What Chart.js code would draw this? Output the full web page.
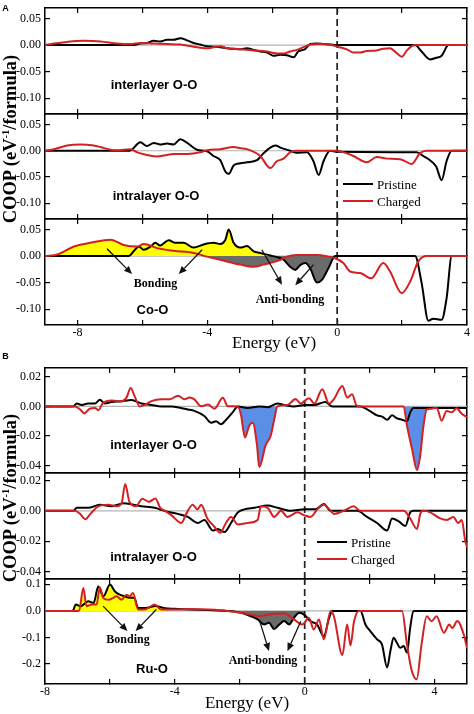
<!DOCTYPE html>
<html><head><meta charset="utf-8"><title>COOP</title>
<script src="https://cdn.jsdelivr.net/npm/chart.js@4.4.1/dist/chart.umd.min.js"></script>
<style>
html,body{margin:0;padding:0;background:#fff}
#fig{position:relative;width:474px;height:714px;overflow:hidden;background:#fff}
#fig canvas{position:absolute;left:0}
.t{position:absolute;white-space:nowrap;line-height:1;transform:translate(-50%,-50%);color:#000}
.lab{font-family:"Liberation Sans",Arial,sans-serif;font-weight:bold;font-size:13px}
.pl{font-family:"Liberation Sans",Arial,sans-serif;font-weight:bold;font-size:9px}
.ann{font-family:"Liberation Serif","Times New Roman",serif;font-weight:bold;font-size:12px}
.ax{font-family:"Liberation Serif","Times New Roman",serif;font-size:17px}
.yt{font-family:"Liberation Serif","Times New Roman",serif;font-weight:bold;font-size:18.5px;transform:translate(-50%,-50%) rotate(-90deg)}
.yt sup{font-size:10.5px;vertical-align:7px;line-height:0}
.leg{position:absolute;font-family:"Liberation Serif","Times New Roman",serif;font-size:13px;line-height:1;white-space:nowrap;transform:translateY(-50%)}
.sw{position:absolute;height:2px}
</style></head>
<body><div id="fig"></div>
<script>
// ---------------- data (energy in eV, COOP in eV^-1/formula) ----------------
const xTicksA = [-8, -6, -4, -2, 0, 2, 4];
const xTickLabelsA = ['-8', '', '-4', '', '0', '', '4'];
const xTicksB = [-8, -6, -4, -2, 0, 2, 4];
const xTickLabelsB = ['-8', '', '-4', '', '0', '', '4'];
const yTicksA = [0.05, 0, -0.05, -0.10];
const yTickLabelsA = ['0.05', '0.00', '-0.05', '-0.10'];
const yTicksB = [0.02, 0, -0.02, -0.04];
const yTickLabelsB = ['0.02', '0.00', '-0.02', '-0.04'];
const yTicksB3 = [0.1, 0, -0.1, -0.2];
const yTickLabelsB3 = ['0.1', '0.0', '-0.1', '-0.2'];
const xRangeA = [-9, 4];
const xRangeB = [-8, 5];
const yRangeA = [-0.13, 0.07];
const yRangeB1 = [-0.045, 0.026];
const yRangeB2 = [-0.045, 0.025];
const yRangeB3 = [-0.275, 0.12];
const seriesNames = ['Pristine', 'Charged'];

// (A) interlayer O-O
const coInterPristine = [[-9,0],[-6.3,0],[-6.06,0.003],[-5.86,0.004],[-5.65,0.008],[-5.45,0.007],[-5.24,0.010],[-5.04,0.010],[-4.83,0.013],[-4.62,0.009],[-4.42,0.004],[-4.22,0.001],[-4.01,-0.002],[-3.81,-0.003],[-3.6,-0.004],[-3.39,-0.006],[-3.19,-0.007],[-2.98,-0.008],[-2.78,-0.006],[-2.57,-0.009],[-2.37,-0.012],[-2.16,-0.014],[-1.96,-0.020],[-1.75,-0.018],[-1.55,-0.019],[-1.34,-0.023],[-1.2,-0.012],[-1.0,-0.008],[-0.83,0.002],[-0.63,0.003],[-0.42,0.002],[-0.22,0.001],[0,0],[2.4,0],[2.6,-0.012],[2.86,-0.027],[3.05,-0.024],[3.22,-0.020],[3.43,0],[4,0]];
const coInterCharged = [[-9,0],[-8.72,0.003],[-8.32,0.006],[-7.81,0.008],[-7.29,0.007],[-6.78,0.003],[-6.37,0.002],[-6.06,0.004],[-5.65,0.003],[-5.24,0.002],[-4.83,0.001],[-4.42,-0.003],[-4.01,-0.006],[-3.81,-0.004],[-3.6,-0.002],[-3.39,-0.006],[-3.19,-0.007],[-2.98,-0.008],[-2.57,-0.010],[-2.16,-0.012],[-1.96,-0.015],[-1.65,-0.016],[-1.45,-0.012],[-1.24,-0.009],[-1.0,-0.003],[-0.83,0.001],[-0.52,0.002],[-0.22,0.001],[0,-0.003],[0.3,-0.008],[0.5,-0.014],[0.71,-0.014],[0.91,-0.011],[1.22,-0.010],[1.42,-0.007],[1.63,-0.006],[1.83,-0.015],[1.99,-0.022],[2.15,-0.010],[2.3,-0.002],[2.45,0],[4,0]];
// (A) intralayer O-O
const coIntraPristine = [[-9,0],[-6.4,0],[-6.06,0.016],[-5.86,0.009],[-5.65,0.015],[-5.45,0.012],[-5.24,0.014],[-5.04,0.012],[-4.83,0.022],[-4.62,0.015],[-4.32,0.002],[-4.01,-0.001],[-3.81,-0.010],[-3.6,-0.018],[-3.44,-0.040],[-3.34,-0.044],[-3.19,-0.028],[-2.98,-0.024],[-2.78,-0.022],[-2.47,-0.018],[-2.27,-0.005],[-2.06,0.006],[-1.9,0.010],[-1.75,0.006],[-1.45,0],[-1.24,-0.004],[-0.93,-0.003],[-0.73,-0.020],[-0.57,-0.046],[-0.42,-0.020],[-0.22,0],[0,-0.002],[2.45,-0.003],[2.65,-0.010],[2.86,-0.018],[3.05,-0.030],[3.22,-0.056],[3.37,-0.020],[3.53,0],[4,0]];
const coIntraCharged = [[-9,0],[-8.72,0.003],[-8.32,0.010],[-7.9,0.012],[-7.5,0.010],[-7.29,0.007],[-6.98,0.002],[-6.78,0.001],[-6.37,0.003],[-6.16,-0.003],[-5.86,-0.008],[-5.55,-0.011],[-5.24,-0.008],[-5.04,-0.006],[-4.62,-0.006],[-4.22,-0.003],[-4.01,0.001],[-3.6,0.003],[-3.19,0.007],[-2.98,0.005],[-2.78,0.003],[-2.37,-0.010],[-2.06,-0.033],[-1.86,-0.020],[-1.65,-0.015],[-1.45,-0.003],[-1.24,0],[0,0],[0.3,-0.005],[0.5,-0.010],[0.91,-0.022],[1.22,-0.012],[1.53,-0.015],[1.94,-0.016],[2.3,-0.025],[2.55,-0.005],[2.76,0],[4,0]];
// (A) Co-O
const coOPristine = [[-9,0],[-6.42,0],[-6.27,0.009],[-6.11,0.018],[-5.96,0.012],[-5.75,0.018],[-5.6,0.025],[-5.45,0.020],[-5.19,0.030],[-4.98,0.025],[-4.73,0.025],[-4.42,0.016],[-4.11,0.022],[-3.81,0.025],[-3.6,0.023],[-3.45,0.030],[-3.34,0.050],[-3.19,0.025],[-2.98,0.016],[-2.78,0.019],[-2.57,0.009],[-2.37,0.006],[-2.06,0.001],[-1.85,-0.002],[-1.65,-0.007],[-1.45,-0.020],[-1.29,-0.026],[-1.14,-0.017],[-0.98,-0.013],[-0.83,-0.023],[-0.62,-0.050],[-0.47,-0.045],[-0.27,-0.023],[-0.06,0],[2.4,0],[2.6,-0.050],[2.81,-0.122],[2.96,-0.118],[3.22,-0.120],[3.37,-0.080],[3.53,0],[4,0]];
const coOCharged = [[-9,0],[-8.62,0.003],[-8.11,0.018],[-7.6,0.025],[-6.98,0.031],[-6.58,0.021],[-6.16,0.018],[-5.96,0.023],[-5.55,0.015],[-5.04,0.010],[-4.42,0.006],[-4.01,-0.001],[-3.6,-0.007],[-2.98,-0.016],[-2.57,-0.020],[-2.27,-0.016],[-2.06,-0.013],[-1.75,-0.007],[-1.55,-0.001],[-1.24,0.002],[-0.62,0.002],[-0.27,-0.001],[-0.06,-0.004],[0.19,-0.013],[0.4,-0.029],[0.71,-0.032],[1.05,-0.042],[1.42,-0.013],[1.63,-0.029],[1.99,-0.070],[2.25,-0.048],[2.5,-0.010],[2.76,0],[4,0]];

// (B) interlayer O-O
const ruInterPristine = [[-8,0],[-7.13,0],[-7.02,0.002],[-6.87,0.001],[-6.67,0.002],[-6.46,0.002],[-6.31,0.0045],[-6.16,0.002],[-5.95,0.003],[-5.64,0.0035],[-5.34,0.0043],[-5.03,0.002],[-4.72,0.001],[-4.42,0],[-4.11,0],[-3.81,-0.001],[-3.6,-0.002],[-3.4,-0.003],[-3.09,-0.0065],[-2.88,-0.011],[-2.73,-0.010],[-2.58,-0.012],[-2.42,-0.009],[-2.22,-0.004],[-2.06,0],[-1.76,-0.001],[-1.4,0],[-1.14,-0.0005],[-0.84,0.002],[-0.63,0.001],[-0.33,0],[0,0.001],[0.29,0.001],[0.64,0.003],[0.85,0],[1.72,0],[2.0,-0.003],[2.23,-0.006],[2.4,-0.007],[2.54,-0.009],[2.69,-0.006],[2.84,-0.008],[3.0,-0.009],[3.15,-0.010],[3.25,-0.004],[3.35,-0.001],[4,-0.001],[5,-0.001]];
const ruInterCharged = [[-8,0],[-7.08,0],[-6.92,-0.002],[-6.79,-0.0047],[-6.62,-0.0015],[-6.46,-0.001],[-6.36,-0.0025],[-6.21,0.0024],[-5.95,0.004],[-5.64,0.0035],[-5.49,0.006],[-5.36,0.0124],[-5.24,0.007],[-5.08,0],[-4.93,0.001],[-4.72,0.0036],[-4.42,0.0048],[-4.16,0.0048],[-3.9,0.0073],[-3.7,0.0048],[-3.55,0.006],[-3.4,0.0048],[-3.19,0.0002],[-2.98,0.0013],[-2.78,-0.0015],[-2.52,0.0058],[-2.37,0.0002],[-2.06,0],[-1.96,-0.006],[-1.84,-0.021],[-1.71,-0.013],[-1.6,-0.011],[-1.47,-0.026],[-1.4,-0.041],[-1.2,-0.026],[-1.05,-0.020],[-0.94,-0.009],[-0.84,0],[-0.53,0.001],[-0.28,0.005],[-0.12,0.002],[0.13,0.0056],[0.3,0.002],[0.54,0.0116],[0.75,0.002],[0.9,0.005],[1.16,0.0138],[1.31,0.006],[1.46,0.0082],[1.6,0.0005],[1.72,0],[3.05,0],[3.15,-0.013],[3.3,-0.028],[3.46,-0.043],[3.56,-0.033],[3.66,-0.013],[3.76,-0.002],[3.9,-0.0015],[4.07,-0.001],[4.22,-0.0096],[4.37,-0.003],[4.53,-0.004],[4.68,-0.0013],[4.84,-0.005],[5,-0.0073]];
// (B) intralayer O-O
const ruIntraPristine = [[-8,0],[-7.13,0],[-7.02,0.002],[-6.67,0.002],[-6.31,0.004],[-5.95,0.003],[-5.57,0.005],[-5.03,0.003],[-4.62,0.002],[-4.32,0],[-3.91,-0.002],[-3.6,-0.004],[-3.29,-0.008],[-3.09,-0.006],[-2.83,-0.013],[-2.68,-0.012],[-2.47,-0.014],[-2.27,-0.008],[-2.06,-0.001],[-1.86,0.001],[-1.55,0.002],[-1.14,0.0035],[-0.84,0.002],[-0.43,0],[0,0.001],[0.33,0.001],[0.59,0.0045],[0.8,0],[1.62,0],[1.92,-0.004],[2.23,-0.008],[2.54,-0.013],[2.69,-0.005],[2.9,-0.007],[3.1,-0.010],[3.25,-0.001],[3.35,0],[5,0]];
const ruIntraCharged = [[-8,0],[-7.08,0],[-6.92,-0.002],[-6.76,-0.0055],[-6.6,-0.002],[-6.36,0.003],[-6.05,0.004],[-5.8,0.003],[-5.64,0.005],[-5.53,0.0178],[-5.4,0.006],[-5.2,0.003],[-5.0,0.008],[-4.8,0.006],[-4.6,0.0082],[-4.45,0.002],[-4.3,0],[-4.1,-0.003],[-3.8,-0.008],[-3.65,-0.002],[-3.45,0.004],[-3.3,0.001],[-3.19,0.004],[-3.0,-0.005],[-2.8,-0.010],[-2.6,-0.0145],[-2.45,-0.009],[-2.27,-0.004],[-2.06,-0.009],[-1.76,-0.008],[-1.45,-0.006],[-1.35,0.003],[-1.14,0.002],[-0.94,-0.004],[-0.73,0],[-0.53,-0.004],[-0.22,-0.001],[0,-0.003],[0.18,-0.004],[0.39,0.001],[0.59,0.004],[0.8,0],[0.9,-0.002],[1.2,0],[1.51,0.003],[1.72,0],[3.05,0],[3.25,-0.005],[3.46,-0.012],[3.56,-0.002],[3.66,0],[3.87,-0.001],[4.17,-0.005],[4.38,-0.006],[4.58,-0.004],[4.73,-0.008],[4.84,-0.006],[4.94,-0.019],[5,-0.024]];
// (B) Ru-O
const ruOPristine = [[-8,0],[-7.15,0],[-7.05,0.024],[-6.9,0.018],[-6.67,0.036],[-6.5,0.030],[-6.36,0.092],[-6.2,0.055],[-6.0,0.099],[-5.85,0.074],[-5.7,0.061],[-5.55,0.055],[-5.4,0.049],[-5.25,0.049],[-5.13,0.011],[-4.9,0.011],[-4.6,0.018],[-4.3,0.010],[-4.0,0.008],[-3.5,0.005],[-3.0,0.003],[-2.4,0],[-1.96,-0.007],[-1.66,-0.020],[-1.45,-0.032],[-1.25,-0.051],[-1.1,-0.045],[-0.94,-0.068],[-0.78,-0.051],[-0.63,-0.038],[-0.48,-0.051],[-0.33,-0.026],[-0.17,-0.007],[-0.02,-0.014],[0.18,-0.039],[0.38,-0.051],[0.59,-0.095],[0.74,-0.032],[0.85,0],[1.72,0],[1.87,-0.051],[2.02,-0.076],[2.23,-0.107],[2.38,-0.126],[2.54,-0.213],[2.64,-0.151],[2.74,-0.101],[2.84,-0.120],[2.94,-0.139],[3.05,-0.132],[3.15,-0.157],[3.25,-0.064],[3.35,0],[5,0]];
const ruOCharged = [[-8,0],[-6.95,0],[-6.82,0.086],[-6.72,0.018],[-6.56,0.024],[-6.41,0.024],[-6.31,0.089],[-6.21,0.049],[-6.05,0.042],[-5.9,0.049],[-5.8,0.055],[-5.64,0.042],[-5.49,0.061],[-5.39,0.055],[-5.29,0.067],[-5.13,0.005],[-4.93,0.005],[-4.62,0.024],[-4.42,0.005],[-4.01,0.005],[-3.5,0.007],[-2.99,0.005],[-2.37,0],[-1.96,-0.007],[-1.66,-0.014],[-1.4,-0.020],[-1.0,-0.012],[-0.63,-0.010],[-0.33,-0.032],[-0.07,-0.051],[0.13,-0.026],[0.28,-0.070],[0.44,-0.032],[0.59,-0.107],[0.8,0],[0.9,-0.020],[1.16,-0.166],[1.31,-0.051],[1.41,-0.130],[1.52,-0.040],[1.67,0],[3.0,0],[3.15,-0.126],[3.3,-0.226],[3.45,-0.257],[3.6,-0.126],[3.76,-0.020],[3.91,-0.039],[4.06,-0.020],[4.29,-0.082],[4.45,-0.051],[4.55,-0.064],[4.7,-0.038],[4.9,-0.089],[5,-0.140]];

// annotation arrows: [E start, COOP start, E end, COOP end]
const arrowsCoO = [[-7.09,0.014,-6.32,-0.034],[-4.16,0.012,-4.88,-0.034],[-2.32,0.012,-1.70,-0.054],[-0.73,-0.016,-1.29,-0.055]];
const arrowsRuO = [[-6.21,0.018,-5.46,-0.076],[-4.57,0.005,-5.21,-0.076],[-1.40,-0.033,-1.10,-0.151],[-0.12,-0.039,-0.53,-0.151]];

// ---------------- styles ----------------
const BLACK = '#000000', RED = '#d42020', YELLOW = '#ffff00', GRAY = '#6b6b6b', BLUE = '#5b8ee6';
const SERIF = '"Liberation Serif","Times New Roman",serif';
const NONE = 'rgba(0,0,0,0)';

const between = (arr, lo, hi) => arr.filter(p => p[0] >= lo && p[0] <= hi);

const arrowPlugin = {
  id: 'arrows',
  afterDatasetsDraw(chart, args, opts) {
    const list = opts.list || [];
    if (!list.length) return;
    const {ctx} = chart; const xs = chart.scales.x, ys = chart.scales.y;
    ctx.save();
    ctx.strokeStyle = '#111'; ctx.fillStyle = '#111'; ctx.lineWidth = 1.3;
    list.forEach(a => {
      const x1 = xs.getPixelForValue(a[0]), y1 = ys.getPixelForValue(a[1]);
      const x2 = xs.getPixelForValue(a[2]), y2 = ys.getPixelForValue(a[3]);
      const ang = Math.atan2(y2 - y1, x2 - x1);
      const hl = 8, hw = 3.5;
      const bx = x2 - hl * Math.cos(ang), by = y2 - hl * Math.sin(ang);
      ctx.beginPath(); ctx.moveTo(x1, y1); ctx.lineTo(bx, by); ctx.stroke();
      ctx.beginPath(); ctx.moveTo(x2, y2);
      ctx.lineTo(bx + hw * Math.sin(ang), by - hw * Math.cos(ang));
      ctx.lineTo(bx - hw * Math.sin(ang), by + hw * Math.cos(ang));
      ctx.closePath(); ctx.fill();
    });
    ctx.restore();
  }
};

const panels = [
  {id:'a1', top:8, bottom:114, xr:xRangeA, yr:yRangeA, xt:xTicksA, xl:xTickLabelsA, yt:yTicksA, yl:yTickLabelsA, black:coInterPristine, red:coInterCharged, showX:false, fills:[], arrows:[]},
  {id:'a2', top:114, bottom:219, xr:xRangeA, yr:yRangeA, xt:xTicksA, xl:xTickLabelsA, yt:yTicksA, yl:yTickLabelsA, black:coIntraPristine, red:coIntraCharged, showX:false, fills:[], arrows:[]},
  {id:'a3', top:219, bottom:325, xr:xRangeA, yr:yRangeA, xt:xTicksA, xl:xTickLabelsA, yt:yTicksA, yl:yTickLabelsA, black:coOPristine, red:coOCharged, showX:true,
    fills:[
      {data: between(coOPristine, -9, -2.0), above: YELLOW},
      {data: between(coOCharged, -9, -2.0), above: YELLOW},
      {data: between(coOPristine, -2.4, 0), below: GRAY},
      {data: between(coOCharged, -4.1, -1.4), below: GRAY}
    ], arrows: arrowsCoO},
  {id:'b1', top:368, bottom:473, xr:xRangeB, yr:yRangeB1, xt:xTicksB, xl:xTickLabelsB, yt:yTicksB, yl:yTickLabelsB, black:ruInterPristine, red:ruInterCharged, showX:false,
    fills:[
      {data: between(ruInterCharged, -2.1, -0.8), below: BLUE},
      {data: between(ruInterCharged, 3.0, 3.8), below: BLUE}
    ], arrows:[]},
  {id:'b2', top:473, bottom:579, xr:xRangeB, yr:yRangeB2, xt:xTicksB, xl:xTickLabelsB, yt:yTicksB, yl:yTickLabelsB, black:ruIntraPristine, red:ruIntraCharged, showX:false, fills:[], arrows:[]},
  {id:'b3', top:579, bottom:684, xr:xRangeB, yr:yRangeB3, xt:xTicksB, xl:xTickLabelsB, yt:yTicksB3, yl:yTickLabelsB3, black:ruOPristine, red:ruOCharged, showX:true,
    fills:[
      {data: between(ruOPristine, -8, -4.3), above: YELLOW},
      {data: between(ruOCharged, -8, -4.3), above: YELLOW},
      {data: between(ruOPristine, -2.0, 0), below: GRAY}
    ], arrows: arrowsRuO}
];

const fig = document.getElementById('fig');
const PAD = 6, XAXIS_H = 18;
const tickFont = {family: SERIF, size: 12};

function axisCommon(extra) {
  return Object.assign({
    type: 'linear',
    grid: {display: true, drawOnChartArea: false, drawTicks: true, tickLength: -5, color: '#000', tickColor: '#000', lineWidth: 1.2},
    border: {display: true, color: '#000', width: 1.5}
  }, extra);
}
function zeroPad(s) { s.paddingTop = 0; s.paddingBottom = 0; s.paddingLeft = 0; s.paddingRight = 0; }

panels.forEach(p => {
  const cv = document.createElement('canvas');
  const h = (p.bottom - p.top) + 2 * PAD + (p.showX ? XAXIS_H : 0);
  cv.width = 474; cv.height = h;
  cv.style.top = (p.top - PAD) + 'px';
  cv.style.width = '474px'; cv.style.height = h + 'px';
  fig.appendChild(cv);

  const ds = [];
  ds.push({label: seriesNames[1], data: p.red, borderColor: RED, borderWidth: 2, pointRadius: 0, cubicInterpolationMode: 'monotone', fill: false});
  ds.push({label: seriesNames[0], data: p.black, borderColor: BLACK, borderWidth: 2, pointRadius: 0, cubicInterpolationMode: 'monotone', fill: false});
  p.fills.forEach(f => ds.push({label: 'fill', data: f.data, borderWidth: 0, borderColor: NONE, pointRadius: 0, cubicInterpolationMode: 'monotone',
    fill: {target: 'origin', above: f.above || NONE, below: f.below || NONE}}));
  ds.push({label: 'Ef', data: [[0, p.yr[0]], [0, p.yr[1]]], borderColor: '#222', borderWidth: 1.7, borderDash: [7, 4], pointRadius: 0, fill: false, tension: 0});
  ds.push({label: 'zero', data: [[p.xr[0], 0], [p.xr[1], 0]], borderColor: '#b4b4b4', borderWidth: 1.2, pointRadius: 0, fill: false, tension: 0});

  const setX = s => { s.ticks = p.xt.map(v => ({value: v})); };
  const setY = s => { s.ticks = p.yt.map(v => ({value: v})); };

  new Chart(cv, {
    type: 'line',
    data: {datasets: ds},
    options: {
      responsive: false, animation: false, devicePixelRatio: 1,
      layout: {padding: {top: PAD, bottom: PAD, left: 0, right: 0}},
      plugins: {legend: {display: false}, tooltip: {enabled: false}, arrows: {list: p.arrows}},
      scales: {
        x: axisCommon({position: 'bottom', min: p.xr[0], max: p.xr[1], afterBuildTicks: setX,
          ticks: {display: p.showX, autoSkip: false, maxRotation: 0, font: tickFont, color: '#000', padding: 6, callback: (v, i) => p.xl[i]},
          afterFit: s => { s.height = p.showX ? XAXIS_H : 0; zeroPad(s); }}),
        x2: axisCommon({position: 'top', min: p.xr[0], max: p.xr[1], afterBuildTicks: setX,
          ticks: {display: false}, afterFit: s => { s.height = 0; zeroPad(s); }}),
        y: axisCommon({position: 'left', min: p.yr[0], max: p.yr[1], afterBuildTicks: setY,
          ticks: {autoSkip: false, font: tickFont, color: '#000', padding: 9, callback: (v, i) => p.yl[i]},
          afterFit: s => { s.width = 45; zeroPad(s); }}),
        y2: axisCommon({position: 'right', min: p.yr[0], max: p.yr[1], afterBuildTicks: setY,
          ticks: {display: false}, afterFit: s => { s.width = 7; zeroPad(s); }})
      }
    },
    plugins: [arrowPlugin]
  });
});

// ---------------- texts ----------------
function txt(cls, html, cx, cy) {
  const d = document.createElement('div');
  d.className = 't ' + cls; d.innerHTML = html;
  d.style.left = cx + 'px'; d.style.top = cy + 'px';
  fig.appendChild(d);
}
function legend(x, y1, y2) {
  [[y1, BLACK, seriesNames[0]], [y2, RED, seriesNames[1]]].forEach(([y, c, name]) => {
    const s = document.createElement('div'); s.className = 'sw';
    s.style.left = x + 'px'; s.style.top = (y - 1) + 'px'; s.style.width = '30px'; s.style.background = c;
    fig.appendChild(s);
    const l = document.createElement('div'); l.className = 'leg'; l.textContent = name;
    l.style.left = (x + 34) + 'px'; l.style.top = y + 'px';
    fig.appendChild(l);
  });
}
txt('pl', 'A', 5.5, 8);
txt('pl', 'B', 5.5, 356);
txt('lab', 'interlayer O-O', 154, 84);
txt('lab', 'intralayer O-O', 156, 195);
txt('lab', 'Co-O', 152.5, 309);
txt('ann', 'Bonding', 155.5, 283);
txt('ann', 'Anti-bonding', 290, 299);
txt('ax', 'Energy (eV)', 274, 342);
txt('yt', 'COOP (eV<sup>-1</sup>/formula)', 10, 139);
legend(343, 184, 200.7);
txt('lab', 'interlayer O-O', 153.5, 444);
txt('lab', 'intralayer O-O', 153.5, 556);
txt('lab', 'Ru-O', 152, 668);
txt('ann', 'Bonding', 128, 638.5);
txt('ann', 'Anti-bonding', 263, 660);
txt('ax', 'Energy (eV)', 247, 702);
txt('yt', 'COOP (eV<sup>-1</sup>/formula)', 10, 498);
legend(317, 541.7, 559.3);
</script>
</body></html>
